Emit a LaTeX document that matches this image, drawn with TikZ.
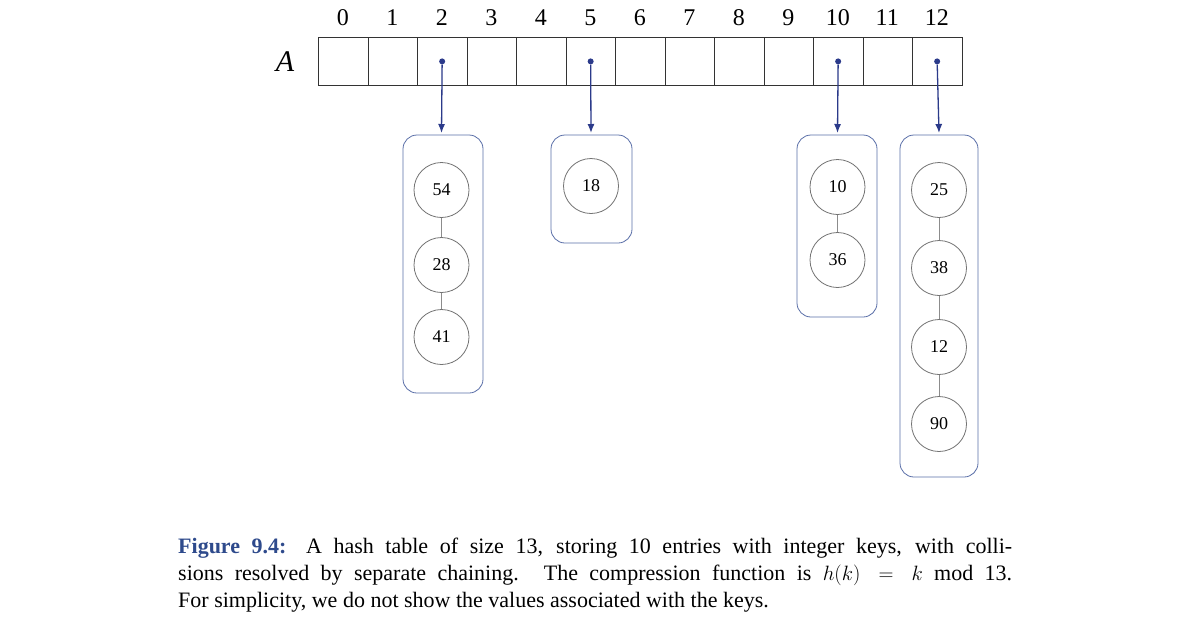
\documentclass[tikz,border=0pt]{standalone}
\usepackage{fontspec}
\setmainfont{Liberation Serif}
\usetikzlibrary{arrows.meta}
\definecolor{arr}{HTML}{2B3A8A}
\definecolor{boxc}{HTML}{5A6FA8}
\definecolor{figc}{HTML}{2E4A8C}
\begin{document}
\begin{tikzpicture}[x=1pt,y=-1pt,
  cell/.style={draw=black!80,line width=0.8pt,minimum width=49.5pt,minimum height=48pt,inner sep=0pt,anchor=north west},
  idx/.style={font=\fontsize{24}{26}\selectfont,inner sep=0pt},
  key/.style={circle,draw=black!55,line width=0.8pt,minimum size=55pt,inner sep=0pt,fill=white,font=\fontsize{18}{20}\selectfont},
  link/.style={draw=black!45,line width=0.8pt},
  chain/.style={draw=boxc,line width=0.8pt,rounded corners=14pt},
  ptr/.style={draw=arr,line width=1.3pt,-{Latex[length=9pt,width=7pt]}},
  dot/.style={circle,fill=arr,minimum size=6pt,inner sep=0pt},
  captxt/.style={font=\fontsize{22}{26}\selectfont,anchor=base west,inner sep=0pt}]
\useasboundingbox (0,0) rectangle (1185,625);
\fill[white] (0,0) rectangle (1185,625);
\foreach \i in {0,...,12}{
  \node[cell] (c\i) at ({318+49.5*\i},37) {};
  \node[idx] (n\i) at ({342.75+49.5*\i},18) {\i};
}
\node[font=\fontsize{30}{32}\selectfont\itshape] (A) at (285,62) {A};
\draw[chain] (403,135) rectangle (483,393);
\draw[chain] (551,135) rectangle (632,243);
\draw[chain] (797,135) rectangle (877,317);
\draw[chain] (900,135) rectangle (978,477);
\foreach \c in {2,5,10,12}{
  \node[dot] (d\c) at (c\c.center) {};
}
\node[key] (k54) at (441.5,190) {54};
\node[key] (k28) at (441.5,265) {28};
\node[key] (k41) at (441.5,337) {41};
\node[key] (k18) at (591,186) {18};
\node[key] (k10) at (837.5,187) {10};
\node[key] (k36) at (837.5,260) {36};
\node[key] (k25) at (939,190) {25};
\node[key] (k38) at (939,268) {38};
\node[key] (k12) at (939,347) {12};
\node[key] (k90) at (939,424) {90};
\draw[link] (k54)--(k28) (k28)--(k41) (k10)--(k36) (k25)--(k38) (k38)--(k12) (k12)--(k90);
\coordinate (e2) at (441.5,133); \coordinate (e5) at (591,133);
\coordinate (e10) at (837.5,133); \coordinate (e12) at (939,133);
\draw[ptr] (d2)--(e2); \draw[ptr] (d5)--(e5); \draw[ptr] (d10)--(e10); \draw[ptr] (d12)--(e12);
\node[captxt] (l1) at (178,553) {\makebox[834pt][s]{\textcolor{figc}{\textbf{Figure 9.4:}} A hash table of size 13, storing 10 entries with integer keys, with colli-}};
\node[captxt] (l2) at (178,580) {\makebox[834pt][s]{sions resolved by separate chaining. The compression function is $h(k)=k$ mod 13.}};
\node[captxt] (l3) at (178,607) {For simplicity, we do not show the values associated with the keys.};
\end{tikzpicture}
\end{document}
